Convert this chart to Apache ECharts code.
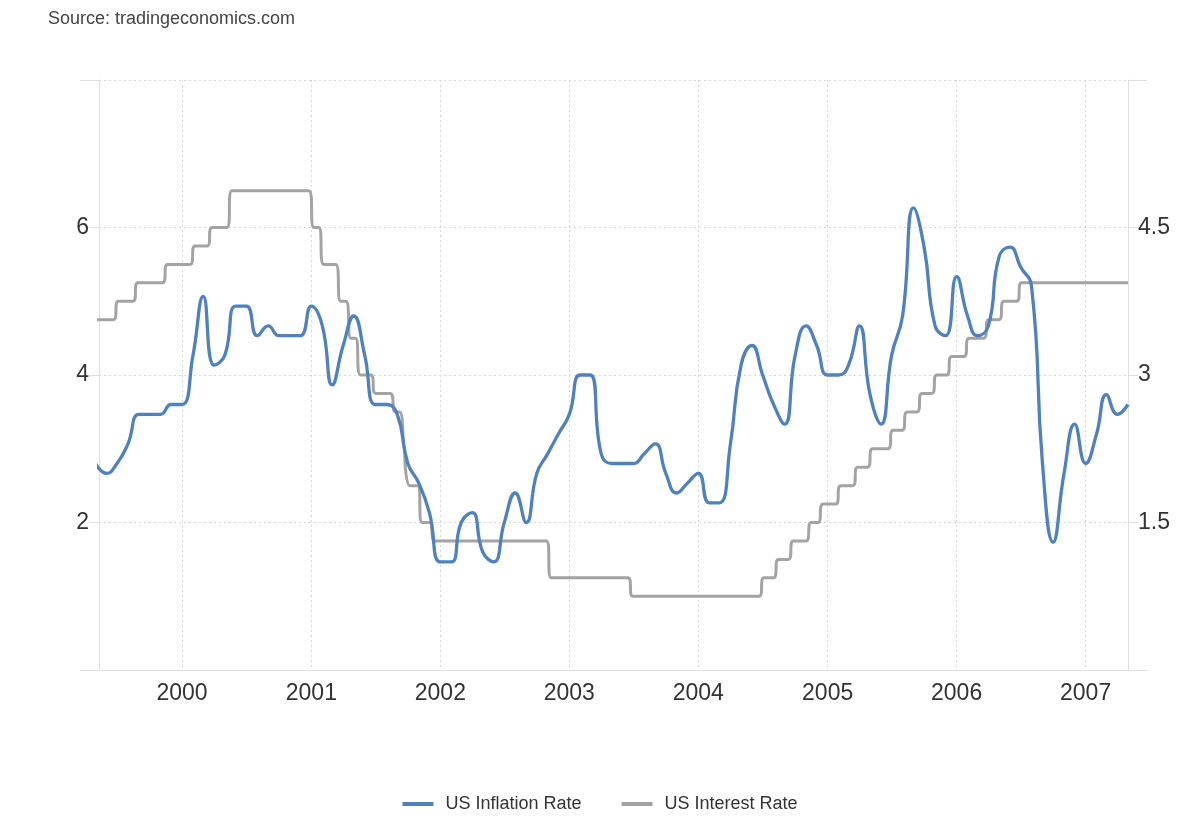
<!DOCTYPE html>
<html>
<head>
<meta charset="utf-8">
<script src="https://cdn.jsdelivr.net/npm/echarts@6.0.0/dist/echarts.min.js"></script>
<style>
  html, body { margin: 0; padding: 0; background: #fff; }
  #main { width: 1200px; height: 820px; }
</style>
</head>
<body>
<div id="main"></div>
<script>
// US CPI YoY (%), monthly, May 1999 .. May 2007
var inflationStart = [1999, 5];
var inflation = [
  2.1, 2.0, 2.1, 2.3, 2.6, 2.6, 2.6, 2.7,
  2.7, 3.2, 3.8, 3.1, 3.2, 3.7, 3.7, 3.4, 3.5, 3.4, 3.4, 3.4,
  3.7, 3.5, 2.9, 3.3, 3.6, 3.2, 2.7, 2.7, 2.6, 2.1, 1.9, 1.6,
  1.1, 1.1, 1.5, 1.6, 1.2, 1.1, 1.5, 1.8, 1.5, 2.0, 2.2, 2.4,
  2.6, 3.0, 3.0, 2.2, 2.1, 2.1, 2.1, 2.2, 2.3, 2.0, 1.8, 1.9,
  2.0, 1.7, 1.7, 2.3, 3.1, 3.3, 3.0, 2.7, 2.5, 3.2, 3.5, 3.3,
  3.0, 3.0, 3.1, 3.5, 2.8, 2.5, 3.2, 3.6, 4.7, 4.3, 3.5, 3.4,
  4.0, 3.6, 3.4, 3.5, 4.2, 4.3, 4.1, 3.9, 2.1, 1.3, 2.0, 2.5,
  2.1, 2.4, 2.8, 2.6, 2.7
];

// Fed funds target: starting level, then decision dates and new levels
var rateStartDate = '1999-05-01';
var rateStartValue = 4.75;
var rateEndDate = '2007-05-01';
var rateDates = [
  '1999-06-30', '1999-08-24', '1999-11-16', '2000-02-02', '2000-03-21', '2000-05-16',
  '2001-01-03', '2001-01-31', '2001-03-20', '2001-04-18', '2001-05-15', '2001-06-27',
  '2001-08-21', '2001-09-17', '2001-10-02', '2001-11-06', '2001-12-11', '2002-11-06',
  '2003-06-25', '2004-06-30', '2004-08-10', '2004-09-21', '2004-11-10', '2004-12-14',
  '2005-02-02', '2005-03-22', '2005-05-03', '2005-06-30', '2005-08-09', '2005-09-20',
  '2005-11-01', '2005-12-13', '2006-01-31', '2006-03-28', '2006-05-10', '2006-06-29'
];
var rateValues = [
  5.00, 5.25, 5.50, 5.75, 6.00, 6.50,
  6.00, 5.50, 5.00, 4.50, 4.00, 3.75,
  3.50, 3.00, 2.50, 2.00, 1.75, 1.25,
  1.00, 1.25, 1.50, 1.75, 2.00, 2.25,
  2.50, 2.75, 3.00, 3.25, 3.50, 3.75,
  4.00, 4.25, 4.50, 4.75, 5.00, 5.25
];

var leftTicks = [0, 8, 2];    // min, max, interval
var rightTicks = [0, 6, 1.5];

var DAY = 86400000;

var inflationData = inflation.map(function (v, i) {
  return [Date.UTC(inflationStart[0], inflationStart[1] - 1 + i, 1), v];
});

// each change eases in over a couple of weeks around the decision date
var rateData = [[Date.parse(rateStartDate), rateStartValue]];
var prev = rateStartValue;
rateDates.forEach(function (d, i) {
  var t = Date.parse(d);
  rateData.push([t - 9 * DAY, prev]);
  rateData.push([t + 5 * DAY, rateValues[i]]);
  prev = rateValues[i];
});
rateData.push([Date.parse(rateEndDate), prev]);

var font = 'Liberation Sans, Arial, sans-serif';
var axisGrey = '#dedede';
var gridDots = { type: [2, 3], color: '#d6d6d6' };

var chart = echarts.init(document.getElementById('main'));
chart.setOption({
  animation: false,
  useUTC: true,
  textStyle: { fontFamily: font },
  title: {
    text: 'Source: tradingeconomics.com',
    left: 48, top: 10, padding: 0,
    textStyle: { fontSize: 18, fontWeight: 'normal', color: '#444', fontFamily: font }
  },
  legend: {
    bottom: 2,
    left: 'center',
    icon: 'rect',
    itemWidth: 31,
    itemHeight: 4,
    itemGap: 40,
    textStyle: { fontSize: 18, color: '#333', padding: [0, 0, 0, 7] },
    data: ['US Inflation Rate', 'US Interest Rate']
  },
  grid: { left: 99, right: 72, top: 80, bottom: 150, containLabel: false, outerBoundsMode: 'none' },
  xAxis: {
    type: 'time',
    min: Date.UTC(1999, 4, 11),
    max: Date.UTC(2007, 4, 1),
    splitNumber: 8,
    minInterval: 300 * DAY,
    maxInterval: 366 * DAY,
    axisLine: { show: true, lineStyle: { color: axisGrey, width: 1 } },
    axisTick: { show: false },
    axisLabel: {
      fontSize: 23, color: '#333', margin: 12,
      showMinLabel: false, showMaxLabel: false,
      formatter: function (val) {
        var d = new Date(val);
        return (d.getUTCMonth() === 0 && d.getUTCDate() === 1) ? String(d.getUTCFullYear()) : '';
      }
    },
    splitLine: { show: true, showMinLine: false, showMaxLine: false, lineStyle: gridDots }
  },
  yAxis: [
    {
      type: 'value', position: 'left',
      min: leftTicks[0], max: leftTicks[1], interval: leftTicks[2],
      axisLine: { show: true, lineStyle: { color: axisGrey } },
      axisTick: { show: true, length: 19, lineStyle: { color: axisGrey } },
      axisLabel: {
        fontSize: 23, color: '#333', margin: 10, backgroundColor: '#fff',
        formatter: function (v) { return (v === leftTicks[0] || v === leftTicks[1]) ? '' : String(v); }
      },
      splitLine: { show: true, lineStyle: gridDots }
    },
    {
      type: 'value', position: 'right',
      min: rightTicks[0], max: rightTicks[1], interval: rightTicks[2],
      axisLine: { show: true, lineStyle: { color: axisGrey } },
      axisTick: { show: true, length: 19, lineStyle: { color: axisGrey } },
      axisLabel: {
        fontSize: 23, color: '#333', margin: 10, backgroundColor: '#fff',
        formatter: function (v) { return (v === rightTicks[0] || v === rightTicks[1]) ? '' : String(v); }
      },
      splitLine: { show: false }
    }
  ],
  series: [
    {
      name: 'US Inflation Rate',
      type: 'line',
      yAxisIndex: 1,
      data: inflationData,
      smooth: 0.5,
      symbol: 'none',
      z: 3,
      itemStyle: { color: '#4f81bd' },
      lineStyle: { color: '#4f81bd', width: 3.3 }
    },
    {
      name: 'US Interest Rate',
      type: 'line',
      yAxisIndex: 0,
      data: rateData,
      smooth: 0.5,
      symbol: 'none',
      z: 2,
      itemStyle: { color: '#a3a3a3' },
      lineStyle: { color: '#a3a3a3', width: 3 }
    }
  ]
});
</script>
</body>
</html>
